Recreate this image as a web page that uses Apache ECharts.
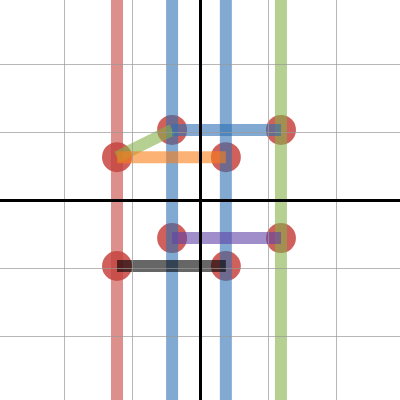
<!DOCTYPE html>
<html><head><meta charset="utf-8">
<script src="https://cdn.jsdelivr.net/npm/echarts@6/dist/echarts.min.js"></script>
<style>html,body{margin:0;padding:0}#c{width:400px;height:400px}</style>
</head><body><div id="c"></div>
<script>
var gridTicks = [-2, -1, 1, 2];
var verticals = [
  {x: -1.22, color: '#c74440'},
  {x: -0.41, color: '#2d70b3'},
  {x: 0.38, color: '#2d70b3'},
  {x: 1.19, color: '#86b04a'}
];
var segments = [
  {from: [-1.22, 0.63], to: [-0.41, 1.03], color: '#86b04a'},
  {from: [-0.41, 1.03], to: [1.19, 1.03], color: '#2d70b3'},
  {from: [-1.22, 0.63], to: [0.38, 0.63], color: '#fa7e19'},
  {from: [-0.41, -0.56], to: [1.19, -0.56], color: '#6042a6'},
  {from: [-1.22, -0.97], to: [0.38, -0.97], color: '#000000'}
];
var points = [[-1.22, 0.63], [-0.41, 1.03], [0.38, 0.63], [1.19, 1.03],
  [-0.41, -0.56], [1.19, -0.56], [-1.22, -0.97], [0.38, -0.97]];

var R = 2.94;
var series = [];
var gridLines = [];
gridTicks.forEach(function (t) { gridLines.push({xAxis: t}); gridLines.push({yAxis: t}); });
series.push({
  type: 'line', data: [], silent: true,
  markLine: {symbol: 'none', label: {show: false}, silent: true,
    lineStyle: {color: '#999', width: 1, type: 'solid', opacity: 0.7}, data: gridLines}
});
series.push({
  type: 'line', data: [], silent: true,
  markLine: {symbol: 'none', label: {show: false}, silent: true,
    lineStyle: {color: '#000', width: 3, type: 'solid'}, data: [{xAxis: 0}, {yAxis: 0}]}
});
verticals.forEach(function (v) {
  series.push({type: 'line', symbol: 'none', data: [[v.x, -R], [v.x, R]],
    lineStyle: {color: v.color, width: 12, opacity: 0.6}});
});
segments.forEach(function (s) {
  series.push({type: 'line', symbol: 'none', data: [s.from, s.to],
    lineStyle: {color: s.color, width: 12, opacity: 0.6}});
});
series.push({type: 'scatter', data: points, symbolSize: 30,
  itemStyle: {color: '#c74440', opacity: 0.85}});

var myChart = echarts.init(document.getElementById('c'));
myChart.setOption({
  animation: false,
  grid: {left: 0, right: 0, top: 0, bottom: 0},
  xAxis: {type: 'value', min: -R, max: R, show: false},
  yAxis: {type: 'value', min: -R, max: R, show: false},
  series: series
});
</script></body></html>
